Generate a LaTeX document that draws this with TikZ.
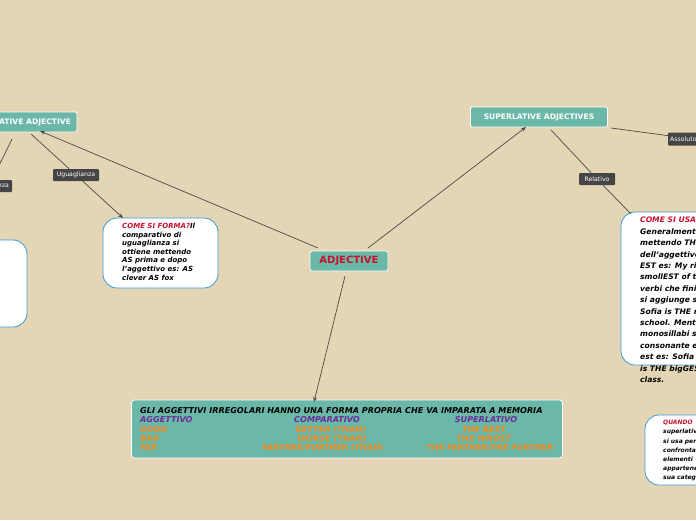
\documentclass[tikz,border=0pt]{standalone}
\usepackage{fontspec}
\setmainfont{DejaVu Sans}
\usetikzlibrary{arrows.meta}
\definecolor{bg}{HTML}{E4D5B5}
\definecolor{teal}{HTML}{6BB8A8}
\definecolor{lab}{HTML}{454545}
\definecolor{edge}{HTML}{4A4A4A}
\definecolor{bl}{HTML}{3A9AD8}
\definecolor{red}{HTML}{C8102E}
\definecolor{pur}{HTML}{6A2C9A}
\definecolor{org}{HTML}{F08A1E}
\tikzset{
 topic/.style={fill=teal,draw=white,line width=0.8pt,rounded corners=2pt,text=white,font=\bfseries\fontsize{7.6}{9}\selectfont,inner sep=0pt},
 lbl/.style={fill=lab,rounded corners=1pt,text=white,font=\fontsize{6.2}{7}\selectfont,inner sep=0pt},
 note/.style={fill=white,draw=bl,line width=0.8pt,rounded corners=14pt,inner sep=0pt},
 conn/.style={draw=edge,line width=0.7pt},
 arr/.style={conn,-{Stealth[length=5pt,width=4pt]}},
 nt/.style={font=\bfseries\itshape\fontsize{7}{8.6}\selectfont,align=left,anchor=north west,inner sep=0pt}
}
\begin{document}
\begin{tikzpicture}[x=1pt,y=-1pt]
\useasboundingbox (0,0) rectangle (696,520);
\clip (0,0) rectangle (696,520);
\fill[bg] (0,0) rectangle (696,520);
% nodes
\node[topic,minimum width=78pt,minimum height=20pt] (adj) at (349,261) {\fontsize{10}{11}\selectfont\color{red}ADJECTIVE};
\node[topic,minimum width=137pt,minimum height=20pt] (sup) at (539,117) {SUPERLATIVE ADJECTIVES};
\node[topic,minimum width=120pt,minimum height=20pt] (comp) at (17,122) {COMPARATIVE ADJECTIVE};
\node[lbl,minimum width=46pt,minimum height=12pt] (ugu) at (76,175) {Uguaglianza};
\node[lbl,minimum width=46pt,minimum height=12pt] (mag) at (-11,186) {Maggioranza};
\node[lbl,minimum width=36pt,minimum height=12pt] (rel) at (597,179) {Relativo};
\node[lbl,minimum width=50pt,minimum height=13pt,anchor=west,align=left,text width=46pt] (ass) at (668,139) {Assoluto};
% notes
\draw[note] (103,218) rectangle (218,288);
\node[nt] (forma) at (122,223) {{\color{red}COME SI FORMA?}Il\\comparativo di\\uguaglianza si\\ottiene mettendo\\AS prima e dopo\\l'aggettivo es: AS\\clever AS fox};
\draw[note] (-60,240) rectangle (27,327);
\draw[note] (621,212) rectangle (760,365);
\node[nt,font=\bfseries\itshape\fontsize{7.6}{11.4}\selectfont] (usa) at (640,217) {{\color{red}COME SI USA?}\\Generalmente si forma\\mettendo THE prima\\dell'aggettivo e aggiungendo\\EST es: My river is the\\smollEST of the city. Con i\\verbi che finiscono con la e\\si aggiunge solo st es:\\Sofia is THE nicEST of the\\school. Mentre con i\\monosillabi si raddoppia la\\consonante e si aggiunge\\est es: Sofia\\is THE bigGEST of the\\class.};
\draw[note] (645,415) rectangle (760,485);
\node[nt,font=\bfseries\itshape\fontsize{6}{9.2}\selectfont] (quando) at (663,420) {{\color{red}QUANDO}\\superlativo\\si usa per\\confrontare\\elementi\\appartenenti\\sua categoria};
% table
\node[fill=teal,draw=white,line width=0.8pt,rounded corners=3pt,minimum width=431pt,minimum height=58pt] (tab) at (347,429) {};
\begin{scope}[font=\bfseries\itshape\fontsize{8.1}{9}\selectfont]
\node[anchor=west,inner sep=0] at (140,411) {GLI AGGETTIVI IRREGOLARI HANNO UNA FORMA PROPRIA CHE VA IMPARATA A MEMORIA};
\node[anchor=west,inner sep=0,text=pur] at (140,420) {AGGETTIVO};
\node[inner sep=0,text=pur] at (327,420) {COMPARATIVO};
\node[inner sep=0,text=pur] at (486,420) {SUPERLATIVO};
\node[anchor=west,inner sep=0,text=org] at (140,430) {GOOD};
\node[inner sep=0,text=org] at (331,430) {BETTER (THAN)};
\node[inner sep=0,text=org] at (484,430) {THE BEST};
\node[anchor=west,inner sep=0,text=org] at (140,439) {BAD};
\node[inner sep=0,text=org] at (332,439) {WORSE (THAN)};
\node[inner sep=0,text=org] at (484,439) {THE WROST};
\node[anchor=west,inner sep=0,text=org] at (140,448) {FAR};
\node[inner sep=0,text=org] at (323,448) {FARTHER/FURTHER (THAN)};
\node[inner sep=0,text=org] at (490,448) {THE FARTHER/THE FURTHER};
\end{scope}
% connectors
\coordinate (fa) at (123,218);
\coordinate (ua) at (-6,240);
\draw[arr] (368,248) -- (526,127);
\draw[arr] (318,248) -- (40,131);
\draw[arr] (345,276) -- (314,402);
\draw[conn] (31,134) -- (ugu);
\draw[arr] (ugu) -- (fa);
\draw[conn] (12,139) -- (mag);
\draw[conn] (mag) -- (ua);
\draw[conn] (551,130) -- (rel);
\draw[conn] (rel) -- (631,214);
\draw[conn] (611,128) -- (ass);
\end{tikzpicture}
\end{document}
